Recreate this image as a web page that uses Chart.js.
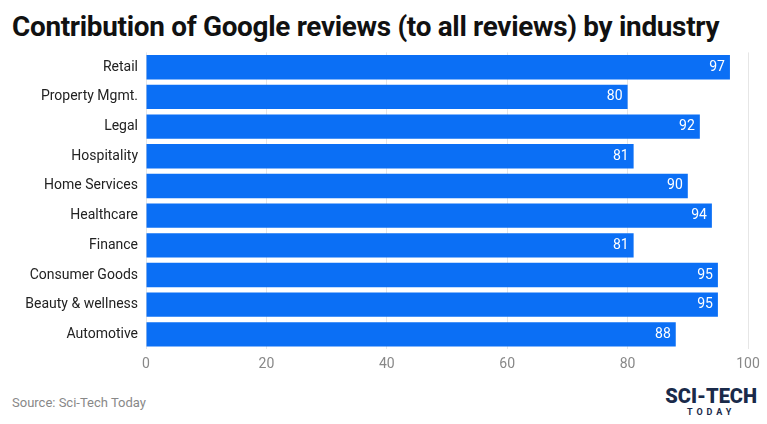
<!DOCTYPE html>
<html>
<head>
<script src="https://cdn.jsdelivr.net/npm/chart.js"></script>
<style>
  body { margin: 0; width: 767px; height: 424px; background: #fff; font-family: Roboto, sans-serif; position: relative; overflow: hidden; }
  .title { position: absolute; left: 12px; top: 10px; font-size: 27.9px; font-weight: bold; color: #111; letter-spacing: -0.3px; }
  .source { position: absolute; left: 12px; top: 395px; font-size: 13px; color: #888; }
  .logo { position: absolute; right: 10px; top: 388px; font-weight: 900; font-size: 20px; color: #1a2a4a; line-height: 16px; }
  .logo small { display: block; font-size: 9px; letter-spacing: 4px; text-align: center; font-weight: 700; }
  .wrap { position: absolute; left: 0; top: 44px; width: 767px; height: 336px; }
</style>
</head>
<body>
<div class="title">Contribution of Google reviews (to all reviews) by industry</div>
<div class="wrap"><canvas id="c"></canvas></div>
<div class="source">Source: Sci-Tech Today</div>
<div class="logo">SCI-TECH<small>TODAY</small></div>
<script>
const industries = ["Retail", "Property Mgmt.", "Legal", "Hospitality", "Home Services", "Healthcare", "Finance", "Consumer Goods", "Beauty & wellness", "Automotive"];
const shares = [97, 80, 92, 81, 90, 94, 81, 95, 95, 88];

const valueLabels = {
  id: "valueLabels",
  afterDatasetsDraw(chart) {
    const ctx = chart.ctx;
    ctx.save();
    ctx.font = "14px Roboto";
    ctx.fillStyle = "#fff";
    ctx.textAlign = "right";
    ctx.textBaseline = "middle";
    chart.getDatasetMeta(0).data.forEach((bar, i) => {
      ctx.fillText(shares[i], bar.x - 5, bar.y);
    });
    ctx.restore();
  }
};

new Chart(document.getElementById("c"), {
  type: "bar",
  data: {
    labels: industries,
    datasets: [{ data: shares, backgroundColor: "#0b6ff5", barPercentage: 0.82, categoryPercentage: 1 }]
  },
  options: {
    indexAxis: "y",
    responsive: true,
    maintainAspectRatio: false,
    animation: false,
    layout: { padding: { right: 19, top: 4 } },
    scales: {
      x: {
        min: 0, max: 100,
        ticks: { stepSize: 20, color: "#888", font: { family: "Roboto", size: 14 }, padding: 7 },
        grid: { color: "#e6e6e6", drawTicks: false },
        border: { display: false }
      },
      y: {
        ticks: { color: "#222", font: { family: "Roboto", size: 14 }, padding: 0 },
        grid: { display: false },
        border: { display: false },
        afterFit(s) { s.width = 146; }
      }
    },
    plugins: { legend: { display: false }, tooltip: { enabled: false } }
  },
  plugins: [valueLabels]
});
</script>
</body>
</html>
